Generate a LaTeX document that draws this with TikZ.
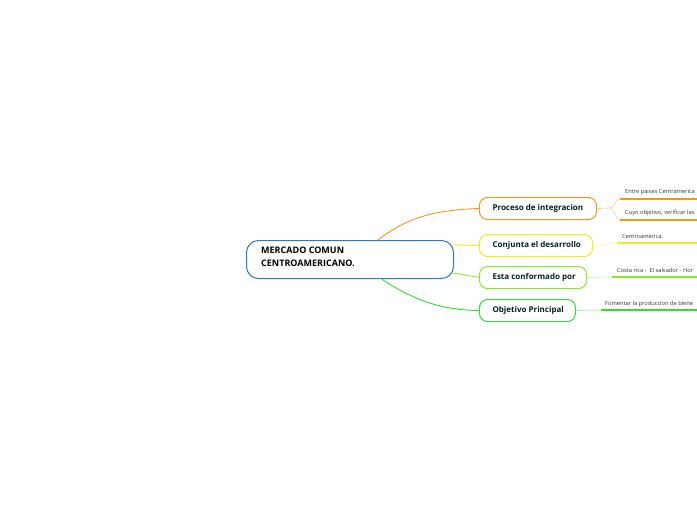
\documentclass[tikz,border=0pt]{standalone}
\usepackage{fontspec}
\setmainfont{Open Sans}
\begin{document}
\begin{tikzpicture}[x=1pt,y=-1pt,
  topic/.style={draw=#1,line width=1pt,rounded corners=8pt,anchor=north west,inner sep=0pt},
  ttext/.style={anchor=west,font=\bfseries\fontsize{8}{9}\selectfont,text=black!75!teal},
  sub/.style={font=\fontsize{5.7}{6}\selectfont,text=black!80,anchor=base west,inner sep=0pt},
  conn/.style={draw=#1,line width=0.9pt}]
\definecolor{cor}{HTML}{F7941D}\definecolor{cye}{HTML}{EEEE1A}
\definecolor{cli}{HTML}{8CE62E}\definecolor{cgr}{HTML}{33DD33}\definecolor{cbl}{HTML}{2B7BC0}
\useasboundingbox (0,0) rectangle (697,520);
\clip (0,0) rectangle (697,520);
\node[draw=cbl,line width=1pt,rounded corners=12pt,minimum width=207pt,minimum height=38pt,anchor=north west] (c) at (246,240) {};
\node[anchor=north west,inner sep=0pt,align=left,font=\bfseries\fontsize{9}{12.5}\selectfont] (ct) at (261,247) {MERCADO COMUN\\CENTROAMERICANO.};
\node[topic=cor,minimum width=117pt,minimum height=22pt] (p) at (479,197) {};
\node[ttext] (pt) at (489,208) {Proceso de integracion};
\node[topic=cye,minimum width=113pt,minimum height=22pt] (q) at (479,234) {};
\node[ttext] (qt) at (489,245) {Conjunta el desarrollo};
\node[topic=cli,minimum width=107pt,minimum height=22pt] (r) at (479,266) {};
\node[ttext] (rt) at (489,277) {Esta conformado por};
\node[topic=cgr,minimum width=96pt,minimum height=22pt] (s) at (479,299) {};
\node[ttext] (st) at (489,310) {Objetivo Principal};
\draw[conn=cor] (378,240) .. controls (410,215) and (440,210) .. (p.west);
\draw[conn=cye] (453,245) -- (q.west);
\draw[conn=cli] (453,273) .. controls (465,275) .. (r.west);
\draw[conn=cgr] (380,278) .. controls (420,305) and (450,310) .. (s.west);
\coordinate (p1) at (620,199); \coordinate (p2) at (620,220);
\draw[cor!40,line width=0.8pt] (p.east) -- (610,208) .. controls (615,208) and (615,199) .. (p1);
\draw[cor!40,line width=0.8pt] (610,208) .. controls (615,208) and (615,220) .. (p2);
\draw[cor,line width=1.5pt] (p1) -- (697,199);
\draw[cor,line width=1.5pt] (p2) -- (697,220);
\node[sub] (pa) at (625,193) {Entre paises Centramerica};
\node[sub] (pb) at (625,214) {Cuyo objetivo, verificar las};
\draw[cye!40,line width=0.8pt] (q.east) -- (617,243);
\draw[cye,line width=1.5pt] (617,243) -- (697,243);
\node[sub] (qa) at (622,238) {Centroamerica.};
\draw[cli!40,line width=0.8pt] (r.east) -- (612,277);
\draw[cli,line width=1.5pt] (612,277) -- (697,277);
\node[sub] (ra) at (617,272) {Costa rica -\ \ El salvador - Hor};
\draw[cgr!40,line width=0.8pt] (s.east) -- (601,310);
\draw[cgr,line width=1.5pt] (601,310) -- (697,310);
\node[sub] (sa) at (605,305) {Fomentar la produccion de biene};
\end{tikzpicture}
\end{document}
